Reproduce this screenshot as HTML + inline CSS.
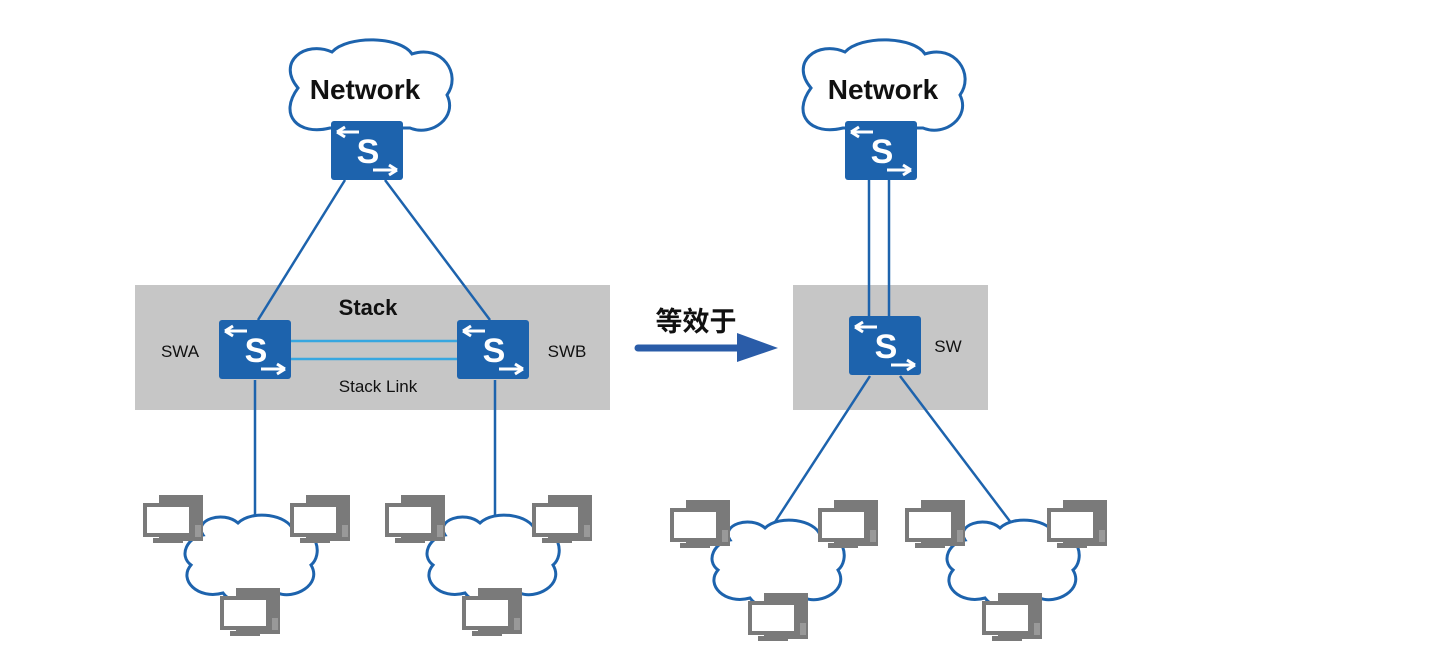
<!DOCTYPE html>
<html><head><meta charset="utf-8"><style>
html,body{margin:0;padding:0;background:#fff;width:1452px;height:660px;overflow:hidden}
svg{display:block}
text{font-family:"Liberation Sans","Noto Sans CJK SC",sans-serif}
</style></head><body>
<svg width="1452" height="660" viewBox="0 0 1452 660" xmlns="http://www.w3.org/2000/svg">
<defs>
<g id="sw">
<rect x="0" y="0" width="72" height="59" rx="3" fill="#1d63ad"/>
<path d="M6 11 H28 M6 11 l8 -5 M6 11 l8 5" stroke="#fff" stroke-width="3" fill="none"/>
<path d="M42 49 H66 M66 49 l-8 -5 M66 49 l-8 5" stroke="#fff" stroke-width="3" fill="none"/>
<text x="37" y="42" text-anchor="middle" font-size="34" font-weight="bold" fill="#fff">S</text>
</g>
<g id="pc">
<rect x="16" y="0" width="44" height="46" fill="#7a7a7a"/>
<rect x="0" y="8" width="50" height="34" fill="#7a7a7a"/>
<rect x="4" y="12" width="42" height="26" fill="#fff"/>
<rect x="10" y="43" width="30" height="5" fill="#7a7a7a"/>
<rect x="52" y="30" width="6" height="12" fill="#999"/>
</g>
<path id="cl" d="M20 20 C10 5 40 -5 55 8 C70 -6 105 0 110 15 C135 12 140 40 128 50 C140 70 110 85 95 78 C80 92 50 92 40 78 C15 85 -5 65 8 50 C-5 40 5 22 20 20 Z" fill="#fff" stroke="#1d63ad" stroke-width="3"/>
</defs>

<rect x="135" y="285" width="475" height="125" fill="#c6c6c6"/>
<rect x="793" y="285" width="195" height="125" fill="#c6c6c6"/>

<path d="M298 88 C276 62 305 40 332 52 C348 35 400 36 412 54 C442 44 462 74 447 95 C458 117 432 137 410 128 L400 128 L330 128 C298 136 278 115 298 88 Z" fill="#fff" stroke="#1d63ad" stroke-width="3"/>
<text x="365" y="99" text-anchor="middle" font-size="28" font-weight="bold" fill="#111">Network</text>
<path d="M811 88 C789 62 818 40 845 52 C861 35 913 36 925 54 C955 44 975 74 960 95 C971 117 945 137 923 128 L913 128 L843 128 C811 136 791 115 811 88 Z" fill="#fff" stroke="#1d63ad" stroke-width="3"/>
<text x="883" y="99" text-anchor="middle" font-size="28" font-weight="bold" fill="#111">Network</text>

<g stroke="#1d63ad" stroke-width="2.5" fill="none">
<line x1="345" y1="180" x2="258" y2="320"/>
<line x1="385" y1="180" x2="490" y2="320"/>
<line x1="255" y1="380" x2="255" y2="518"/>
<line x1="495" y1="380" x2="495" y2="518"/>
<line x1="869" y1="180" x2="869" y2="316"/>
<line x1="889" y1="180" x2="889" y2="316"/>
<line x1="870" y1="376" x2="775" y2="522"/>
<line x1="900" y1="376" x2="1015" y2="528"/>
</g>
<g stroke="#37a7e0" stroke-width="2.5">
<line x1="291" y1="341" x2="457" y2="341"/>
<line x1="291" y1="359" x2="457" y2="359"/>
</g>

<use href="#sw" x="331" y="121"/>
<use href="#sw" x="219" y="320"/>
<use href="#sw" x="457" y="320"/>
<use href="#sw" x="845" y="121"/>
<use href="#sw" x="849" y="316"/>

<text x="368" y="315" text-anchor="middle" font-size="22" font-weight="bold" fill="#111">Stack</text>
<text x="180" y="357" text-anchor="middle" font-size="17" fill="#111">SWA</text>
<text x="567" y="357" text-anchor="middle" font-size="17" fill="#111">SWB</text>
<text x="378" y="392" text-anchor="middle" font-size="17" fill="#111">Stack Link</text>
<text x="948" y="352" text-anchor="middle" font-size="17" fill="#111">SW</text>

<line x1="638" y1="348" x2="740" y2="348" stroke="#2a5ca8" stroke-width="7" stroke-linecap="round"/>
<polygon points="737,333 778,348 737,362" fill="#2a5ca8"/>
<text x="696" y="331" text-anchor="middle" font-size="27" font-weight="bold" fill="#111">等效于</text>

<g transform="translate(183,515)"><use href="#cl"/></g>
<use href="#pc" x="143" y="495"/><use href="#pc" x="290" y="495"/><use href="#pc" x="220" y="588"/>
<g transform="translate(425,515)"><use href="#cl"/></g>
<use href="#pc" x="385" y="495"/><use href="#pc" x="532" y="495"/><use href="#pc" x="462" y="588"/>
<g transform="translate(710,520)"><use href="#cl"/></g>
<use href="#pc" x="670" y="500"/><use href="#pc" x="818" y="500"/><use href="#pc" x="748" y="593"/>
<g transform="translate(945,520)"><use href="#cl"/></g>
<use href="#pc" x="905" y="500"/><use href="#pc" x="1047" y="500"/><use href="#pc" x="982" y="593"/>
</svg>
</body></html>
